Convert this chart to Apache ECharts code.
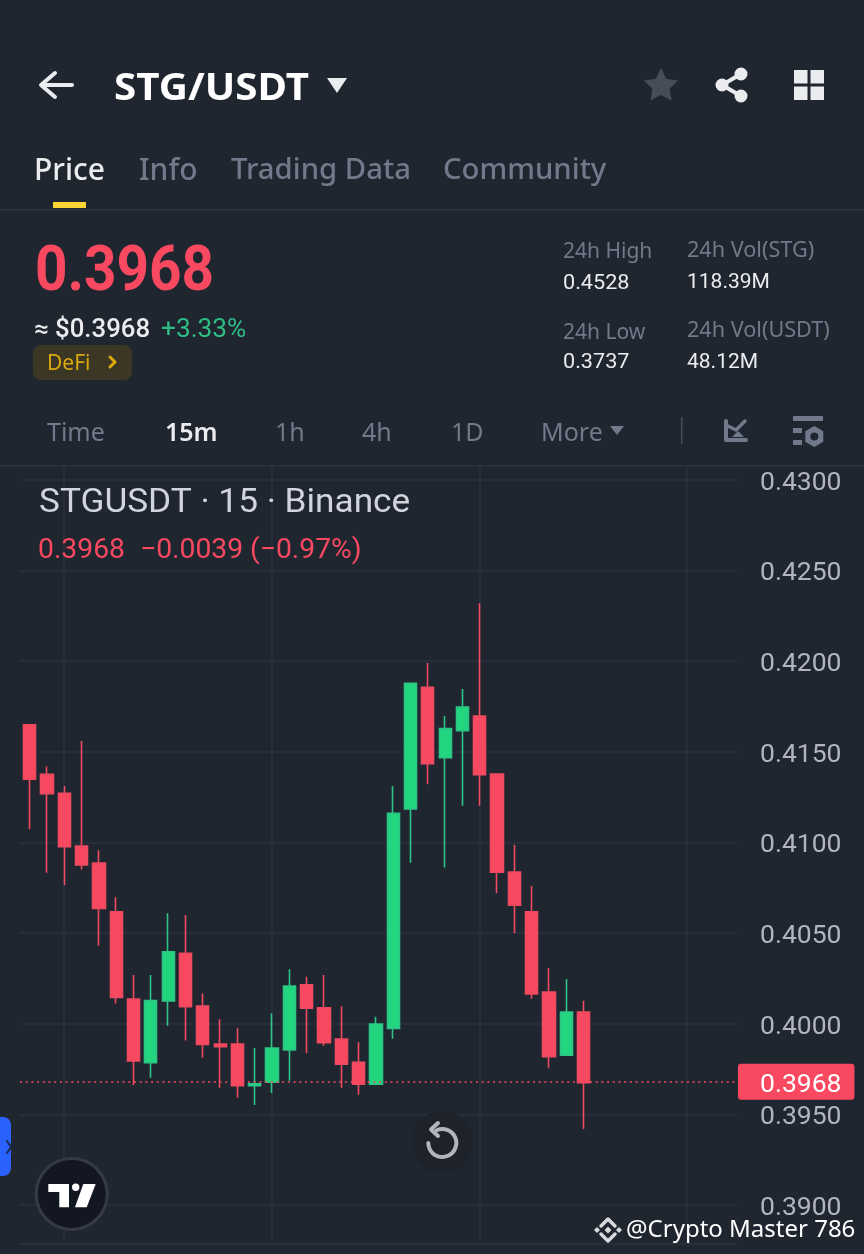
<!DOCTYPE html>
<html>
<head>
<meta charset="utf-8">
<title>STG/USDT</title>
<script src="https://cdn.jsdelivr.net/npm/echarts@6/dist/echarts.min.js"></script>
<style>
  html, body { margin: 0; padding: 0; background: #202630; }
  #main { width: 864px; height: 1254px; }
</style>
</head>
<body>
<div id="main"></div>
<script>
// candles, oldest first
const opens = [0.41649, 0.41375, 0.41270, 0.40980, 0.40886, 0.40617, 0.40136, 0.39785, 0.40125, 0.40388, 0.40097, 0.39888, 0.39888, 0.39658, 0.39677, 0.39855, 0.40215, 0.40088, 0.39915, 0.39787, 0.39666, 0.39974, 0.41184, 0.41855, 0.41467, 0.41616, 0.41697, 0.41377, 0.40836, 0.40617, 0.40175, 0.39826, 0.40064]
const closes = [0.41348, 0.41268, 0.40976, 0.40875, 0.40636, 0.40145, 0.39794, 0.40127, 0.40397, 0.40094, 0.39886, 0.39873, 0.39658, 0.39669, 0.39866, 0.40208, 0.40085, 0.39895, 0.39776, 0.39666, 0.39998, 0.41160, 0.41877, 0.41434, 0.41627, 0.41746, 0.41373, 0.40835, 0.40654, 0.40164, 0.39818, 0.40064, 0.39674]
const lows = [0.41072, 0.40833, 0.40763, 0.40851, 0.40430, 0.40112, 0.39662, 0.39702, 0.39989, 0.39908, 0.39812, 0.39647, 0.39592, 0.39551, 0.39618, 0.39685, 0.39837, 0.39878, 0.39647, 0.39608, 0.39666, 0.39917, 0.40888, 0.41320, 0.40862, 0.41202, 0.41202, 0.40719, 0.40500, 0.40138, 0.39757, 0.39826, 0.39419]
const highs = [0.41649, 0.41419, 0.41311, 0.41559, 0.40956, 0.40697, 0.40268, 0.40268, 0.40609, 0.40599, 0.40167, 0.40024, 0.39976, 0.39866, 0.40057, 0.40300, 0.40259, 0.40268, 0.40096, 0.39897, 0.40038, 0.41311, 0.41877, 0.41989, 0.41697, 0.41846, 0.42318, 0.41377, 0.40987, 0.40759, 0.40307, 0.40246, 0.40127]
const lastPrice = 0.3968

const bg = '#202630'
const red = '#F84960'
const green = '#22D67F'
const lineColor = '#2B323C'
const greyText = '#707A8A'
const whiteText = '#EAECEF'
const uiFont = '"Noto Sans", sans-serif'
const tvFont = 'Roboto, sans-serif'

const candles = opens.map((o, i) => [i, o, closes[i], lows[i], highs[i]])

const txt = (x, y, text, size, color, opts = {}) => ({
  type: 'text', z: 120, x, y: y + 2, scaleX: opts.sx || 1, silent: true,
  style: {
    text, fill: color,
    font: (opts.weight || 400) + ' ' + size + 'px ' + (opts.font || uiFont),
    textAlign: opts.align || 'left', textVerticalAlign: 'middle'
  }
})
const rect = (x, y, width, height, fill, r = 0, z = 110) => ({
  type: 'rect', z, silent: true, shape: { x, y, width, height, r }, style: { fill }
})
const poly = (points, fill, z = 120) => ({
  type: 'polygon', z, silent: true, shape: { points }, style: { fill }
})
const stroke = (points, color, lineWidth, z = 120) => ({
  type: 'polyline', z, silent: true, shape: { points },
  style: { stroke: color, lineWidth, fill: null, lineCap: 'round', lineJoin: 'round' }
})
const circle = (cx, cy, r, fill, z = 120, extra = {}) => ({
  type: 'circle', z, silent: true, shape: { cx, cy, r }, style: { fill, ...extra }
})
const star = (cx, cy, R, r) => {
  const pts = []
  for (let i = 0; i < 10; i++) {
    const a = -Math.PI / 2 + i * Math.PI / 5
    const d = i % 2 ? r : R
    pts.push([cx + d * Math.cos(a), cy + d * Math.sin(a)])
  }
  return pts
}
const diamond = (cx, cy, d) => [[cx, cy - d], [cx + d, cy], [cx, cy + d], [cx - d, cy]]

const chrome = [
  rect(0, 465, 864, 1.5, lineColor, 0, 111),
  rect(20, 1243, 717, 1.5, lineColor, 0, 111),
  rect(0, 209, 864, 1.5, lineColor, 0, 111),

  stroke([[42, 85], [72, 85]], whiteText, 4),
  stroke([[55, 73], [41, 85], [55, 97]], whiteText, 4),
  txt(114, 87, 'STG/USDT', 38, '#FFFFFF', { weight: 700, sx: 1.062 }),
  poly([[327, 78], [347, 78], [337, 93]], whiteText),
  poly(star(661, 86, 18, 9), '#474D57'),
  stroke([[741, 74], [722, 85], [741, 96]], whiteText, 4),
  circle(722, 85, 6.5, whiteText),
  circle(741, 74, 6.5, whiteText),
  circle(741, 96, 6.5, whiteText),
  rect(794, 70, 13.5, 13.5, whiteText, 0, 120),
  rect(810.5, 70, 13.5, 13.5, whiteText, 0, 120),
  rect(794, 86.5, 13.5, 13.5, whiteText, 0, 120),
  rect(810.5, 86.5, 13.5, 13.5, whiteText, 0, 120),

  txt(34, 169, 'Price', 30, whiteText, { weight: 500 }),
  txt(139, 169, 'Info', 30, greyText, { weight: 500 }),
  txt(231, 169, 'Trading Data', 29.3, greyText, { weight: 500 }),
  txt(443, 169, 'Community', 29.3, greyText, { weight: 500 }),
  rect(53, 202, 33, 6, '#FCD535', 0, 120),

  txt(35, 272, '0.3968', 63, red, { weight: 700, font: tvFont, sx: 0.9 }),
  txt(34, 329, '≈ $0.3968', 25, whiteText, { weight: 500, font: tvFont, sx: 1.03 }),
  txt(161, 329, '+3.33%', 25, '#2EBD85', { font: tvFont, sx: 1.05 }),
  rect(33, 345, 99, 35, '#3C3724', 8, 115),
  txt(47, 362, 'DeFi', 21, '#D9A90E'),
  stroke([[110, 357], [115, 362], [110, 367]], '#D9A90E', 3),

  txt(563, 250, '24h High', 21, greyText),
  txt(563, 282, '0.4528', 21, whiteText, { font: tvFont, sx: 1.03 }),
  txt(687, 249, '24h Vol(STG)', 21, greyText, { sx: 1.03 }),
  txt(687, 281, '118.39M', 21, whiteText, { font: tvFont }),
  txt(563, 331, '24h Low', 21, greyText),
  txt(563, 361, '0.3737', 21, whiteText, { font: tvFont, sx: 1.03 }),
  txt(687, 329, '24h Vol(USDT)', 21, greyText, { sx: 1.03 }),
  txt(687, 361, '48.12M', 21, whiteText, { font: tvFont }),

  txt(47, 432, 'Time', 25, greyText),
  txt(165, 432, '15m', 25, whiteText, { weight: 600 }),
  txt(275, 432, '1h', 25, greyText),
  txt(362, 432, '4h', 25, greyText),
  txt(451, 432, '1D', 25, greyText),
  txt(541, 432, 'More', 25, greyText),
  poly([[610, 426], [624, 426], [617, 435]], greyText),
  rect(681, 417, 1.5, 27, '#474D57', 0, 120),
  stroke([[726, 421], [726, 440], [746, 440]], greyText, 4),
  stroke([[728, 426], [736, 430], [745, 421]], greyText, 3.5),
  poly([[732, 437], [744, 437], [738, 431]], greyText),
  rect(793, 416, 30, 5, greyText, 0, 120),
  rect(793, 428, 9, 5, greyText, 0, 120),
  rect(793, 440, 9, 5, greyText, 0, 120),
  poly([[814.3, 426], [823.3, 431.2], [823.3, 441.8], [814.3, 447], [805.3, 441.8], [805.3, 431.2]], greyText),
  circle(814.3, 436.5, 4, bg, 121),

  txt(39, 501, 'STGUSDT · 15 · Binance', 34, '#D1D4DC', { font: tvFont, sx: 1.035 }),
  txt(38, 549, '0.3968', 28, red, { font: tvFont, sx: 1.01 }),
  txt(140, 549, '−0.0039 (−0.97%)', 28, red, { font: tvFont, sx: 1.01 }),

  rect(0, 1117, 11, 59, '#2962FF', [0, 8, 8, 0], 120),
  stroke([[7, 1141], [11, 1147], [7, 1153]], '#1C2A4A', 2, 121),
  circle(71.7, 1194, 35.5, '#131722', 120, { stroke: '#363A45', lineWidth: 3 }),
  poly([[48.3, 1184], [69, 1184], [69, 1207.3], [59.3, 1207.3], [59.3, 1192], [48.3, 1192]], '#FFFFFF', 121),
  circle(75.7, 1187.3, 3.7, '#FFFFFF', 121),
  poly([[83.3, 1184], [95.7, 1184], [86.7, 1207.3], [75, 1207.3]], '#FFFFFF', 121),

  circle(442.3, 1142, 31, '#1D222B', 118),
  {
    type: 'arc', z: 120, silent: true,
    shape: { cx: 442.3, cy: 1143, r: 14, startAngle: -114 * Math.PI / 180, endAngle: Math.PI, clockwise: true },
    style: { stroke: '#B2B5BE', lineWidth: 4, fill: null, lineCap: 'round' }
  },
  stroke([[438, 1123], [431, 1129.5], [438, 1136]], '#B2B5BE', 4),

  stroke([[601, 1226], [608, 1219], [615, 1226]], '#D8DADD', 3.5),
  stroke([[601, 1234], [608, 1241], [615, 1234]], '#D8DADD', 3.5),
  poly(diamond(608, 1230, 3.5), '#D8DADD'),
  poly(diamond(597, 1230, 3), '#D8DADD'),
  poly(diamond(619, 1230, 3), '#D8DADD'),
  txt(626, 1228, '@Crypto Master 786', 24, '#FFFFFF')
]

const chart = echarts.init(document.getElementById('main'), null, { renderer: 'canvas' })

const option = {
  animation: false,
  backgroundColor: bg,
  grid: [
    { left: 20, top: 479.7, width: 717, height: 725.33, containLabel: false },
    // only carries the time grid lines, which run the full height of the pane
    { left: 64, top: 465, width: 623, height: 778, containLabel: false }
  ],
  xAxis: [
    { type: 'value', gridIndex: 0, min: -0.56, max: 40.86, show: false, splitLine: { show: false } },
    {
      type: 'value',
      gridIndex: 1,
      min: 0,
      max: 36,
      interval: 12,
      axisLine: { show: false },
      axisTick: { show: false },
      axisLabel: { show: false },
      splitLine: { show: true, lineStyle: { color: lineColor, width: 1.5 } }
    }
  ],
  yAxis: [
    {
      type: 'value',
      gridIndex: 0,
      position: 'right',
      min: 0.39,
      max: 0.43,
      interval: 0.005,
      axisLine: { show: false },
      axisTick: { show: false },
      splitLine: { lineStyle: { color: lineColor, width: 1.5 } },
      axisLabel: {
        margin: 23,
        color: '#B2B5BE',
        fontFamily: tvFont,
        fontSize: 26.5,
        // rich padding nudges the digits just under their grid line
        formatter: v => '{v|' + v.toFixed(4) + '}',
        rich: { v: { color: '#B2B5BE', fontFamily: tvFont, fontSize: 26.5, padding: [7, 0, 0, 0] } }
      }
    },
    {
      type: 'value',
      gridIndex: 1,
      min: 0,
      max: 1,
      axisLine: { show: false },
      axisTick: { show: false },
      axisLabel: { show: false },
      splitLine: { show: false }
    }
  ],
  series: [
    {
      type: 'candlestick',
      xAxisIndex: 0,
      yAxisIndex: 0,
      z: 2,
      barWidth: 12.7,
      data: candles,
      itemStyle: {
        color: green,
        color0: red,
        borderColor: '#2CC585',
        borderColor0: '#EE4A60',
        borderWidth: 1.6
      },
      markLine: {
        silent: true,
        symbol: 'none',
        animation: false,
        precision: 4,
        lineStyle: { color: red, width: 1.5, type: [2, 3.7] },
        label: {
          show: true,
          position: 'end',
          distance: 1,
          formatter: '{v|' + lastPrice.toFixed(4) + '}',
          rich: { v: { color: '#FFFFFF', fontFamily: tvFont, fontSize: 26.5, padding: [6, 0, 0, 0] } },
          backgroundColor: red,
          padding: [2, 13, 1, 22],
          borderRadius: 3
        },
        data: [{ yAxis: lastPrice }]
      }
    }
  ],
  graphic: { elements: chrome }
}

chart.setOption(option)
window.addEventListener('resize', () => { chart.resize() })
</script>
</body>
</html>
